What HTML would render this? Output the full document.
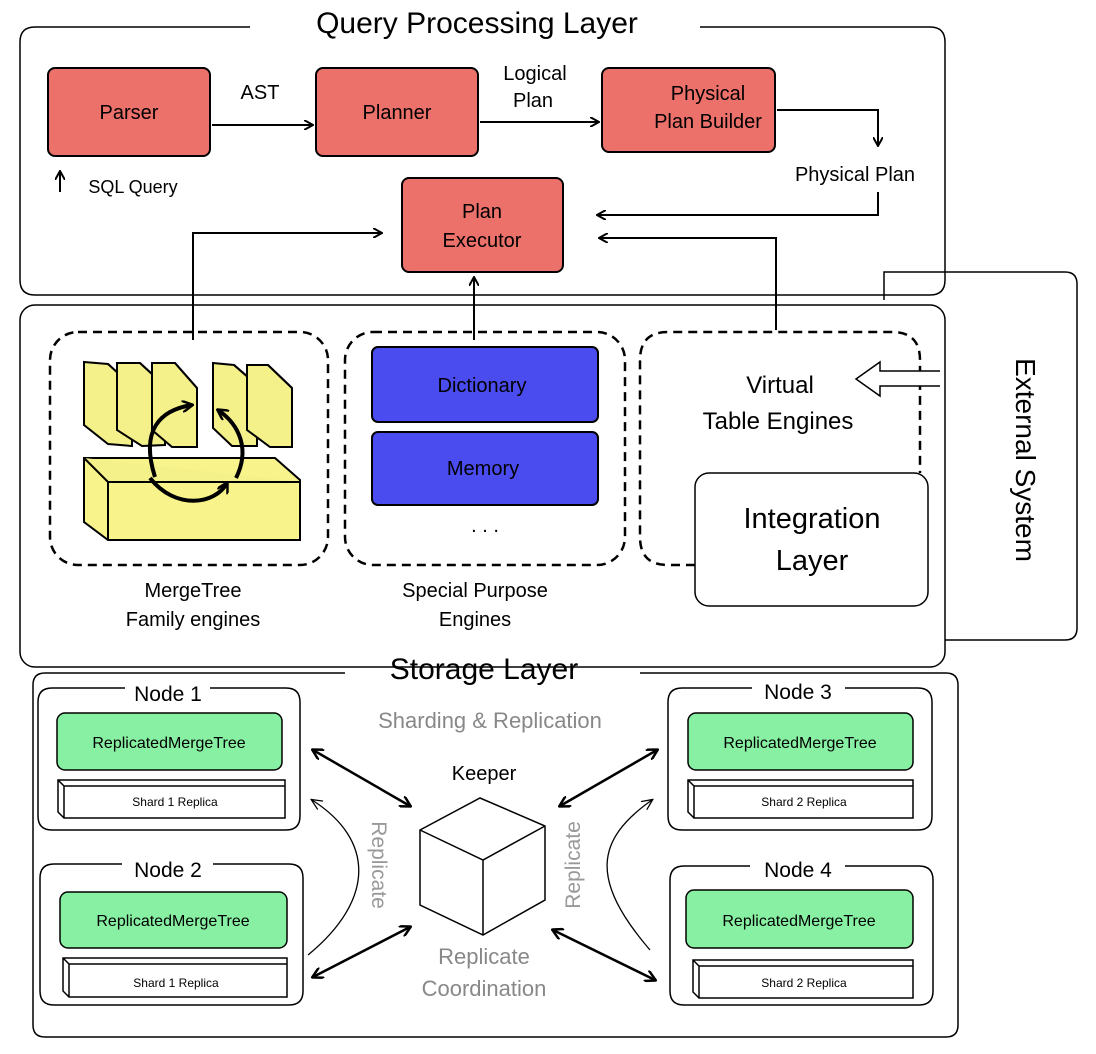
<!DOCTYPE html>
<html><head><meta charset="utf-8"><style>
html,body{margin:0;padding:0;background:#fff;}
svg{display:block;font-family:"Liberation Sans",sans-serif;}
</style></head><body>
<svg width="1096" height="1054" viewBox="0 0 1096 1054" xmlns="http://www.w3.org/2000/svg">
<defs>
<marker id="ah" markerWidth="10" markerHeight="10" refX="8" refY="5" orient="auto" markerUnits="userSpaceOnUse"><path d="M0,0 L9,5 L0,10" fill="none" stroke="#000" stroke-width="2"/></marker>
<marker id="ahs" markerWidth="12" markerHeight="12" refX="10" refY="6" orient="auto-start-reverse" markerUnits="userSpaceOnUse"><path d="M0,0 L11,6 L0,12" fill="none" stroke="#000" stroke-width="2.5"/></marker>
<marker id="aht" markerWidth="12" markerHeight="12" refX="10" refY="6" orient="auto" markerUnits="userSpaceOnUse"><path d="M0,1 L11,6 L0,11" fill="none" stroke="#000" stroke-width="1.3"/></marker>
</defs>
<g fill="none" stroke="#000" stroke-width="1.5">
<path d="M250,27 H35 Q20,27 20,42 V280 Q20,295 35,295 H930 Q945,295 945,280 V42 Q945,27 930,27 H700"/>
<rect x="20" y="305" width="925" height="362" rx="15"/>
<path d="M884,300 V272 H1065 Q1077,272 1077,284 V628 Q1077,640 1065,640 H945"/>
<path d="M345,673 H45 Q33,673 33,685 V1025 Q33,1037 45,1037 H946 Q958,1037 958,1025 V685 Q958,673 946,673 H640"/>
</g>
<text x="477" y="33" font-size="30" text-anchor="middle">Query Processing Layer</text>
<text x="484" y="679" font-size="30" text-anchor="middle">Storage Layer</text>

<g stroke="#000" stroke-width="2" fill="#ec716b">
<rect x="48" y="68" width="162" height="88" rx="7"/>
<rect x="316" y="68" width="162" height="88" rx="7"/>
<rect x="602" y="68" width="173" height="84" rx="7"/>
<rect x="402" y="178" width="161" height="94" rx="7"/>
</g>
<g font-size="20" text-anchor="middle">
<text x="129" y="119">Parser</text>
<text x="397" y="119">Planner</text>
<text x="708" y="100">Physical</text>
<text x="708" y="128">Plan Builder</text>
<text x="482" y="218">Plan</text>
<text x="482" y="247">Executor</text>
<text x="260" y="99">AST</text>
<text x="535" y="80">Logical</text>
<text x="533" y="107">Plan</text>
<text x="855" y="181">Physical Plan</text>
<text x="133" y="193" font-size="18">SQL Query</text>
</g>
<g fill="none" stroke="#000" stroke-width="2">
<path d="M212,125 H312" marker-end="url(#ah)"/>
<path d="M480,122 H598" marker-end="url(#ah)"/>
<path d="M777,110 H878 V145" marker-end="url(#ah)"/>
<path d="M878,192 V215 H598" marker-end="url(#ah)"/>
<path d="M60,192 V172" marker-end="url(#ah)"/>
<path d="M193,340 V233 H381" marker-end="url(#ah)"/>
<path d="M474,340 V278" marker-end="url(#ah)"/>
<path d="M776,330 V238 H600" marker-end="url(#ah)"/>
</g>

<g fill="none" stroke="#000" stroke-width="2.5" stroke-dasharray="9,6">
<rect x="50" y="332" width="278" height="233" rx="28"/>
<rect x="345" y="332" width="280" height="233" rx="28"/>
<path d="M695,565 H668 Q640,565 640,537 V360 Q640,332 668,332 H892 Q920,332 920,360 V473"/>
</g>

<g stroke="#000" stroke-width="2" fill="#f4f08a">
<path d="M84,362 L108,364 L132,386 L132,446 L108,444 L84,425 Z"/>
<path d="M108,364 L132,386 L132,446"/>
<path d="M117,363 L140,363 L165,386 L165,445 L142,446 L117,430 Z"/>
<path d="M140,363 L165,386"/>
<path d="M152,363 L175,363 L197,388 L197,447 L172,447 L152,430 Z"/>
<path d="M175,363 L197,388"/>
<path d="M213,363 L234,365 L257,385 L257,446 L232,446 L213,428 Z"/>
<path d="M234,365 L257,385"/>
<path d="M247,365 L268,365 L292,388 L292,447 L270,447 L247,430 Z"/>
<path d="M268,365 L292,388"/>
<path d="M84,458 L275,458 L300,480 L300,540 L108,540 L84,522 Z" fill="#f8f38a"/>
<path d="M84,458 L108,482 L300,482 M108,482 V540"/>
</g>
<g fill="none" stroke="#000" stroke-width="4">
<path d="M155,477 C140,430 160,410 192,405" marker-end="url(#ahs)"/>
<path d="M150,478 C175,510 215,505 227,483" marker-end="url(#ahs)"/>
<path d="M236,478 C250,450 240,425 218,410" marker-end="url(#ahs)"/>
</g>

<g stroke="#000" stroke-width="2" fill="#4a4cf0">
<rect x="372" y="347" width="226" height="75" rx="6"/>
<rect x="372" y="432" width="226" height="73" rx="6"/>
</g>
<g font-size="20" text-anchor="middle">
<text x="482" y="392">Dictionary</text>
<text x="483" y="475">Memory</text>
<text x="485" y="532">. . .</text>
<text x="780" y="393" font-size="24">Virtual</text>
<text x="778" y="429" font-size="24">Table Engines</text>
<text x="193" y="597">MergeTree</text>
<text x="193" y="626">Family engines</text>
<text x="475" y="597">Special Purpose</text>
<text x="475" y="626">Engines</text>
</g>
<path d="M940,371 H880 V362 L856,379 L880,396 V386 H940" fill="#fff" stroke="#000" stroke-width="1.5"/>
<rect x="695" y="473" width="233" height="133" rx="14" fill="#fff" stroke="#000" stroke-width="1.5"/>
<text x="812" y="528" font-size="29" text-anchor="middle">Integration</text>
<text x="812" y="570" font-size="29" text-anchor="middle">Layer</text>
<text transform="translate(1016,460) rotate(90)" font-size="28" text-anchor="middle">External System</text>

<g fill="none" stroke="#000" stroke-width="1.5">
<path d="M125,688 H52 Q38,688 38,702 V816 Q38,830 52,830 H286 Q300,830 300,816 V702 Q300,688 286,688 H210"/>
<path d="M122,864 H54 Q40,864 40,878 V991 Q40,1005 54,1005 H289 Q303,1005 303,991 V878 Q303,864 289,864 H213"/>
<path d="M752,688 H682 Q668,688 668,702 V816 Q668,830 682,830 H918 Q932,830 932,816 V702 Q932,688 918,688 H845"/>
<path d="M750,866 H684 Q670,866 670,880 V991 Q670,1005 684,1005 H919 Q933,1005 933,991 V880 Q933,866 919,866 H845"/>
</g>
<g stroke="#000" stroke-width="1.5" fill="#88f0a2">
<rect x="57" y="713" width="225" height="57" rx="8"/>
<rect x="60" y="892" width="227" height="56" rx="8"/>
<rect x="688" y="713" width="225" height="57" rx="8"/>
<rect x="686" y="890" width="227" height="58" rx="8"/>
</g>
<g stroke="#000" stroke-width="1.5" fill="#fff">
<path d="M58,780 H285 V818 H64 L58,812 Z M58,780 L64,786 H285 M64,786 V818"/>
<path d="M63,958 H287 V997 H69 L63,991 Z M63,958 L69,964 H287 M69,964 V997"/>
<path d="M688,780 H913 V818 H694 L688,812 Z M688,780 L694,786 H913 M694,786 V818"/>
<path d="M693,960 H913 V998 H699 L693,992 Z M693,960 L699,966 H913 M699,966 V998"/>
</g>
<g text-anchor="middle">
<text x="168" y="701" font-size="21">Node 1</text>
<text x="168" y="877" font-size="21">Node 2</text>
<text x="798" y="699" font-size="21">Node 3</text>
<text x="798" y="877" font-size="21">Node 4</text>
<text x="169" y="748" font-size="16">ReplicatedMergeTree</text>
<text x="173" y="926" font-size="16">ReplicatedMergeTree</text>
<text x="800" y="748" font-size="16">ReplicatedMergeTree</text>
<text x="799" y="926" font-size="16">ReplicatedMergeTree</text>
<text x="175" y="806" font-size="12">Shard 1 Replica</text>
<text x="176" y="987" font-size="12">Shard 1 Replica</text>
<text x="804" y="806" font-size="12">Shard 2 Replica</text>
<text x="804" y="987" font-size="12">Shard 2 Replica</text>
<text x="490" y="728" font-size="22" fill="#888">Sharding &amp; Replication</text>
<text x="484" y="780" font-size="20">Keeper</text>
<text x="484" y="964" font-size="22" fill="#888">Replicate</text>
<text x="484" y="996" font-size="22" fill="#888">Coordination</text>
</g>
<text transform="translate(372,865) rotate(90)" font-size="21" fill="#999" text-anchor="middle">Replicate</text>
<text transform="translate(580,865) rotate(-90)" font-size="21" fill="#999" text-anchor="middle">Replicate</text>
<g stroke="#000" stroke-width="1.5" fill="#fff">
<path d="M420,830 L480,798 L545,826 L545,900 L483,935 L420,905 Z"/>
<path d="M420,830 L483,860 L545,826 M483,860 V935" fill="none"/>
</g>
<g fill="none" stroke="#000" stroke-width="2.5">
<path d="M313,750 L410,806" marker-start="url(#ahs)" marker-end="url(#ahs)"/>
<path d="M313,977 L410,927" marker-start="url(#ahs)" marker-end="url(#ahs)"/>
<path d="M560,806 L657,750" marker-start="url(#ahs)" marker-end="url(#ahs)"/>
<path d="M553,930 L655,980" marker-start="url(#ahs)" marker-end="url(#ahs)"/>
</g>
<g fill="none" stroke="#000" stroke-width="1.3">
<path d="M308,955 C375,900 375,840 312,800" marker-end="url(#aht)"/>
<path d="M650,950 C590,880 595,840 652,800" marker-end="url(#aht)"/>
</g>
</svg>
</body></html>
